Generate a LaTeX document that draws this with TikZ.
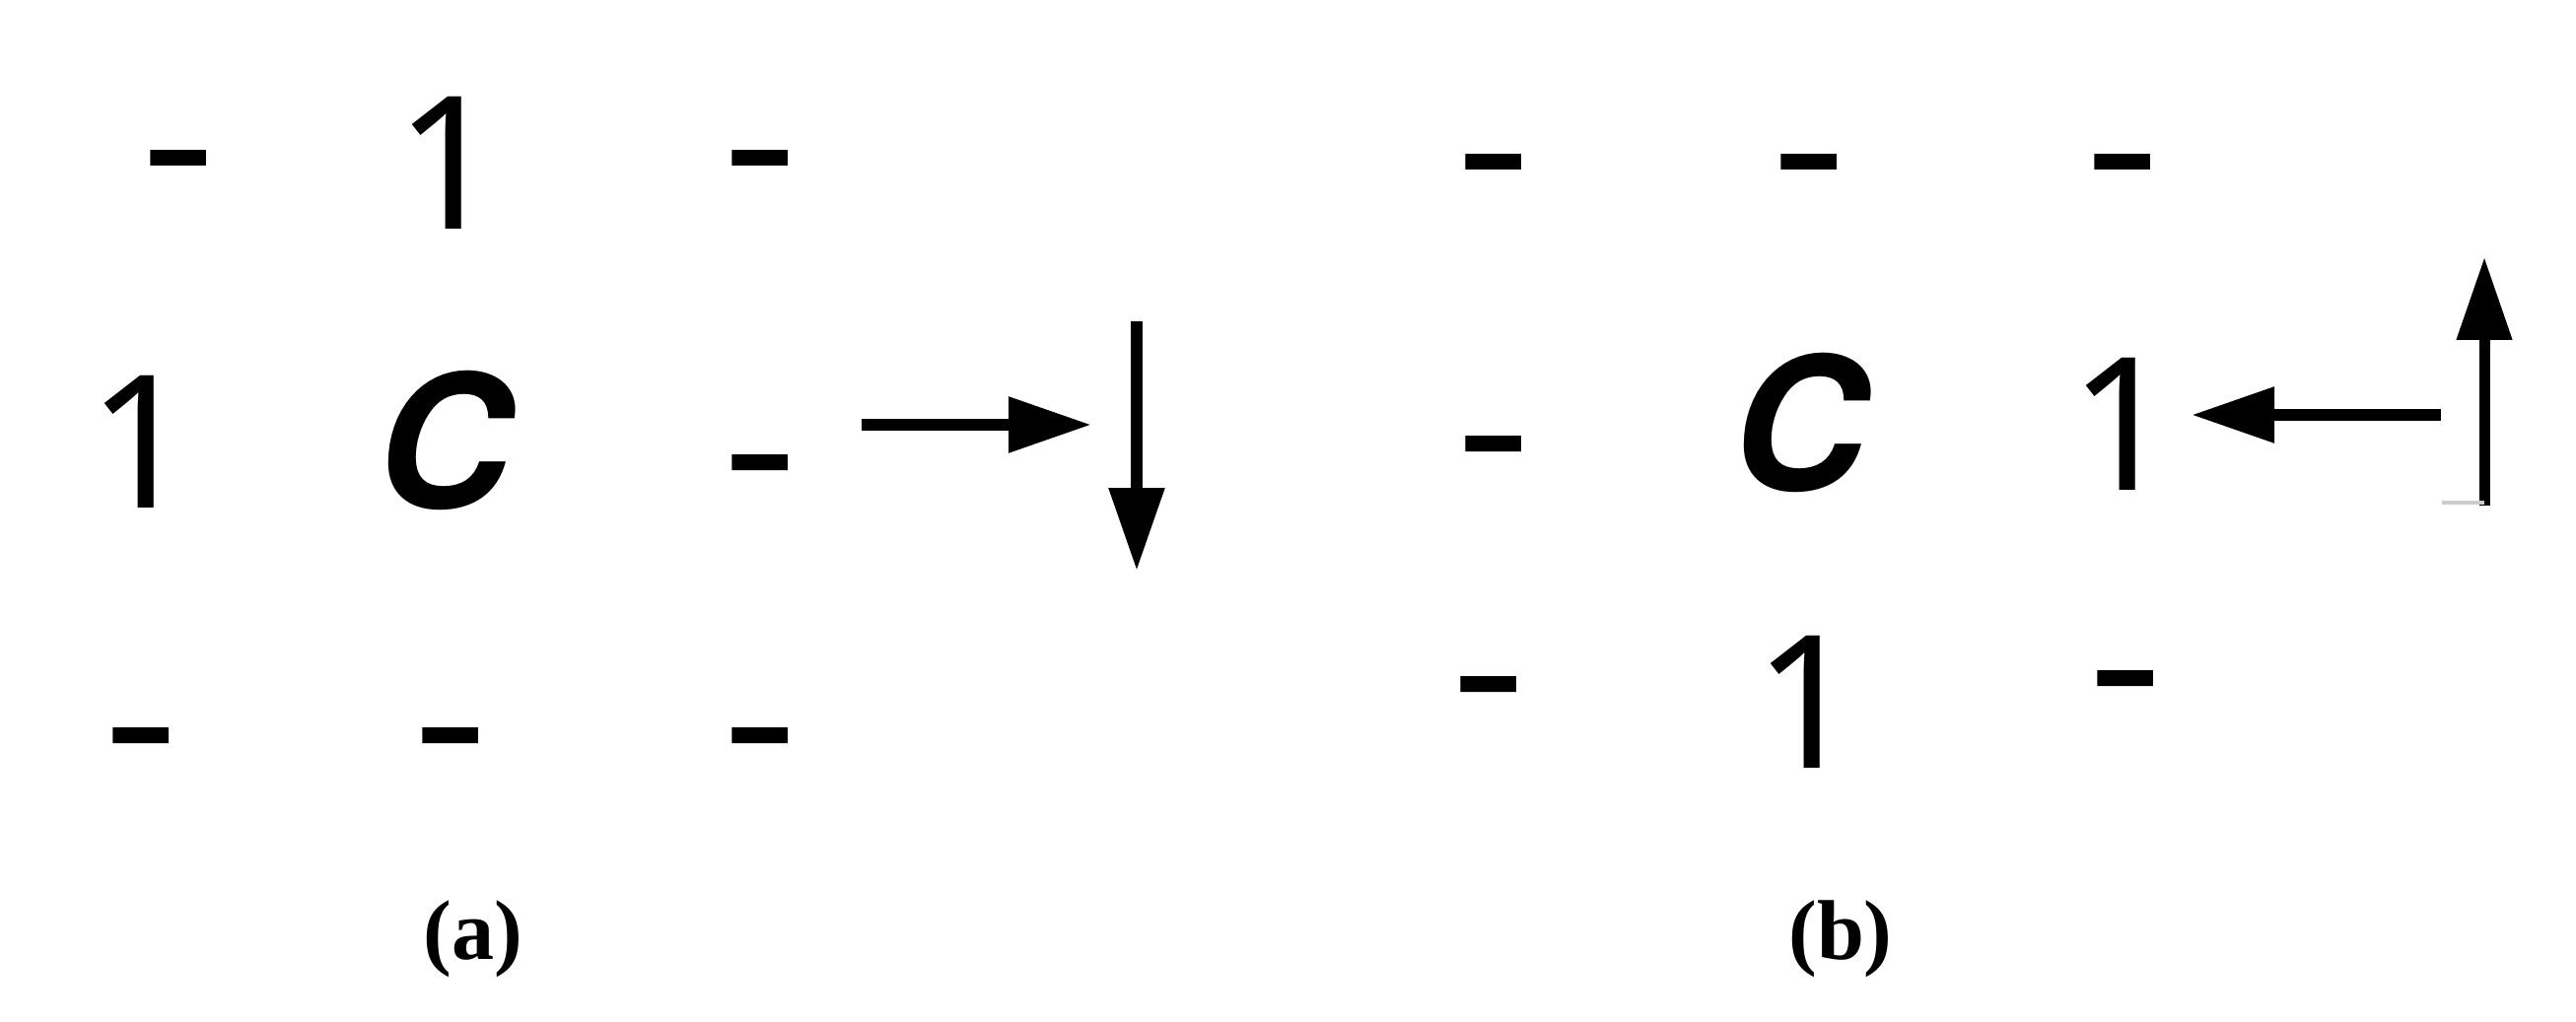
\documentclass[tikz,border=0pt]{standalone}
\usepackage{fontspec}
\usepackage{graphicx}
\setmainfont{Liberation Serif}
\newfontfamily\arialf{TeX Gyre Heros}
\newfontfamily\dashf[FakeBold=1.2]{TeX Gyre Heros}
\newfontfamily\onef{Noto Sans}
\usetikzlibrary{arrows.meta}
\newcommand{\dsh}{\scalebox{1.2}[1]{-}}
\begin{document}
\begin{tikzpicture}[x=1cm,y=1cm,
  sym/.style={font=\dashf\fontsize{53.5}{60}\selectfont, inner sep=0pt, anchor=base, text=black},
  osym/.style={sym, font=\onef\fontsize{53.5}{60}\selectfont},
  csym/.style={sym, font=\arialf\bfseries\itshape\fontsize{53.5}{60}\selectfont},
  caplabel/.style={font=\bfseries\fontsize{24.5}{28}\selectfont, inner sep=0pt, anchor=base},
  arr/.style={line width=0.12cm, -{Triangle[length=0.84cm,width=0.54cm]}}]
\useasboundingbox (0,0) rectangle (26.13,-10.37);
% ---------- (a) ----------
\node[sym] (a11) at (1.81,-2.12) {\dsh};
\node[osym] (a12) at (4.55,-2.33) {1};
\node[sym] (a13) at (7.71,-2.12) {\dsh};
\node[osym] (a21) at (1.43,-5.15) {1};
\node[csym] (a22) at (4.49,-5.15) {C};
\node[sym] (a23) at (7.71,-5.21) {\dsh};
\node[sym] (a31) at (1.43,-7.98) {\dsh};
\node[sym] (a32) at (4.57,-7.98) {\dsh};
\node[sym] (a33) at (7.71,-7.98) {\dsh};
\coordinate (ah1) at (8.74,-4.31);
\coordinate (ah2) at (11.07,-4.31);
\coordinate (av1) at (11.53,-3.26);
\coordinate (av2) at (11.53,-5.79);
\draw[arr] (ah1) -- (ah2);
\draw[arr] (av1) -- (av2);
\node[caplabel] (capa) at (4.80,-9.73) {(a)};
% ---------- (b) ----------
\node[sym] (b11) at (15.15,-2.16) {\dsh};
\node[sym] (b12) at (18.35,-2.16) {\dsh};
\node[sym] (b13) at (21.53,-2.16) {\dsh};
\node[sym] (b21) at (15.15,-5.02) {\dsh};
\node[csym] (b22) at (18.24,-4.97) {C};
\node[osym] (b23) at (21.53,-4.97) {1};
\node[sym] (b31) at (15.10,-7.46) {\dsh};
\node[osym] (b32) at (18.33,-7.79) {1};
\node[sym] (b33) at (21.56,-7.40) {\dsh};
\coordinate (bh1) at (24.76,-4.21);
\coordinate (bh2) at (22.23,-4.21);
\coordinate (bv1) at (25.20,-5.13);
\coordinate (bv2) at (25.20,-2.61);
\coordinate (bt1) at (24.77,-5.10);
\draw[arr] (bh1) -- (bh2);
\draw[arr, line width=0.11cm] (bv1) -- (bv2);
\draw[black!20, line width=0.04cm] (bt1) -- (bv1 |- bt1);
\node[caplabel] (capb) at (18.67,-9.73) {(b)};
\end{tikzpicture}
\end{document}
